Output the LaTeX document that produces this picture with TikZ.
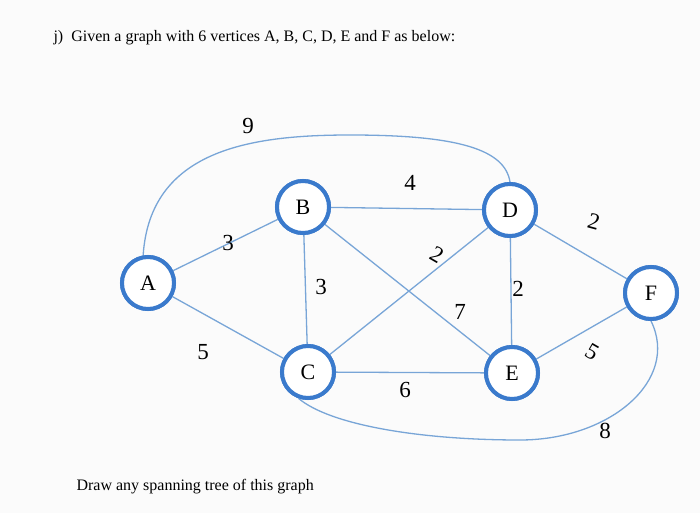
\documentclass[tikz,border=0pt]{standalone}
\usepackage{fontspec}
\setmainfont{Liberation Serif}
\definecolor{ring}{RGB}{58,122,204}
\definecolor{edge}{RGB}{120,165,215}
\begin{document}
\begin{tikzpicture}[x=1pt,y=-1pt,
  vtx/.style={circle,draw=ring,line width=4pt,fill=white,minimum size=52pt,inner sep=0pt,font=\fontsize{22}{22}\selectfont},
  ed/.style={draw=edge,line width=1.3pt},
  lab/.style={font=\fontsize{23}{23}\selectfont}]
\fill[white!97!gray] (0,0) rectangle (700,513);
\useasboundingbox (0,0) rectangle (700,513);
\node[anchor=west,font=\fontsize{16}{16}\selectfont] (t) at (50,38) {j)\ \ Given a graph with 6 vertices A, B, C, D, E and F as below:};
\node[anchor=west,font=\fontsize{16}{16}\selectfont] (b) at (73,487) {Draw any spanning tree of this graph};
\node[vtx] (A) at (148,283) {A};
\node[vtx] (B) at (303,207) {B};
\node[vtx] (D) at (510,210) {D};
\node[vtx] (C) at (308,372) {C};
\node[vtx] (E) at (512,373) {E};
\node[vtx] (F) at (651,293) {F};
\draw[ed] (A)--(B) (A)--(C) (B)--(D) (B)--(C) (B)--(E) (C)--(D) (C)--(E) (D)--(E) (D)--(F) (E)--(F);
\draw[ed] (A.100) .. controls (150,150) and (250,135) .. (350,135) .. controls (460,135) and (505,150) .. (D.90);
\draw[ed] (C.250) .. controls (330,425) and (420,440) .. (520,440) .. controls (610,440) and (680,380) .. (F.270);
\node[vtx] at (A) {A};\node[vtx] at (B) {B};\node[vtx] at (D) {D};
\node[vtx] at (C) {C};\node[vtx] at (E) {E};\node[vtx] at (F) {F};
\node[lab] at (248,126) {9};
\node[lab] at (410,183) {4};
\node[lab] at (228,243) {3};
\node[lab,rotate=-30] at (437,255) {2};
\node[lab,rotate=-15] at (594,222) {2};
\node[lab] at (321,287) {3};
\node[lab] at (460,312) {7};
\node[lab] at (518,289) {2};
\node[lab] at (203,352) {5};
\node[lab] at (405,390) {6};
\node[lab,rotate=-30] at (592,352) {5};
\node[lab] at (605,431) {8};
\end{tikzpicture}
\end{document}
